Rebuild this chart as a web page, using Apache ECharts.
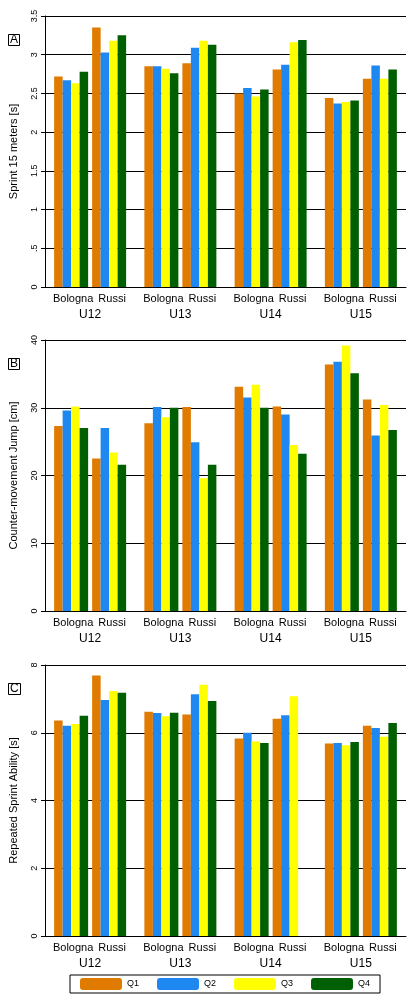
<!DOCTYPE html>
<html>
<head>
<meta charset="UTF-8">
<script src="https://cdn.jsdelivr.net/npm/echarts@6/dist/echarts.min.js"></script>
<style>
  html, body { margin: 0; background: #fff; }
  #main { width: 411px; height: 1000px; }
</style>
</head>
<body>
<div id="main"></div>
<script>
var ages = ['U12', 'U13', 'U14', 'U15'];
var quarters = ['Q1', 'Q2', 'Q3', 'Q4'];
var colors = ['#e07b00', '#1e88f0', '#ffff00', '#005f00'];

// values per quarter, one entry per age group
var sprintBologna = [[2.72, 2.85, 2.50, 2.44], [2.67, 2.85, 2.57, 2.37], [2.63, 2.82, 2.46, 2.39], [2.78, 2.76, 2.55, 2.41]];
var sprintRussi = [[3.35, 2.89, 2.81, 2.69], [3.03, 3.09, 2.87, 2.86], [3.18, 3.18, 3.16, 2.69], [3.25, 3.13, 3.19, 2.81]];
var cmjBologna = [[27.3, 27.7, 33.1, 36.4], [29.6, 30.1, 31.5, 36.8], [30.2, 28.6, 33.4, 39.2], [27.0, 30.0, 30.0, 35.1]];
var cmjRussi = [[22.5, 30.1, 30.2, 31.2], [27.0, 24.9, 29.0, 25.9], [23.4, 19.6, 24.5, 30.4], [21.6, 21.6, 23.2, 26.7]];
var rsaBologna = [[6.36, 6.62, 5.83, 5.68], [6.21, 6.58, 6.00, 5.70], [6.26, 6.49, 5.74, 5.63], [6.50, 6.59, 5.70, 5.73]];
var rsaRussi = [[7.69, 6.54, 6.41, 6.21], [6.97, 7.14, 6.52, 6.14], [7.23, 7.42, 7.08, 5.88], [7.18, 6.94, null, 6.29]];

var panels = [
  { letter: 'A', name: 'Sprint 15 meters [s]', top: 16, max: 3.5, interval: 0.5, b: sprintBologna, r: sprintRussi },
  { letter: 'B', name: 'Counter-movement Jump [cm]', top: 340, max: 40, interval: 10, b: cmjBologna, r: cmjRussi },
  { letter: 'C', name: 'Repeated Sprint Ability [s]', top: 665, max: 8, interval: 2, b: rsaBologna, r: rsaRussi }
];

var grids = [], xAxes = [], yAxes = [], series = [], titles = [];
panels.forEach(function (p, i) {
  grids.push({ left: 40, right: 5, top: p.top, height: 271 });
  titles.push({
    text: p.letter, left: 8, top: p.top + 18, padding: [0, 2],
    borderColor: '#000', borderWidth: 1,
    textStyle: { fontSize: 12, fontWeight: 'normal', color: '#000', fontFamily: 'Liberation Sans' }
  });
  xAxes.push({
    type: 'category', gridIndex: i, data: ages,
    axisLine: { lineStyle: { color: '#000' } }, axisTick: { show: false },
    axisLabel: {
      interval: 0, margin: 6, color: '#000', fontFamily: 'Liberation Sans',
      formatter: function (v) { return '{s|Bologna}{r|Russi}\n{a|' + v + '}'; },
      rich: {
        s: { fontSize: 11, width: 44, align: 'center', fontFamily: 'Liberation Sans' },
        r: { fontSize: 11, width: 34, align: 'center', fontFamily: 'Liberation Sans' },
        a: { fontSize: 12, lineHeight: 22, fontFamily: 'Liberation Sans' }
      }
    }
  });
  yAxes.push({
    type: 'value', gridIndex: i, min: 0, max: p.max, interval: p.interval,
    name: p.name, nameLocation: 'middle', nameGap: 26,
    nameTextStyle: { fontSize: 11, color: '#000', fontFamily: 'Liberation Sans' },
    axisLine: { show: true, lineStyle: { color: '#000' } },
    axisTick: { show: true, length: 4, lineStyle: { color: '#000' } },
    axisLabel: {
      rotate: 90, fontSize: 9, margin: 6, color: '#000', fontFamily: 'Liberation Sans',
      formatter: function (v) { return v === 0.5 ? '.5' : String(v); }
    },
    splitLine: { lineStyle: { color: '#000', width: 1 } }
  });
  quarters.forEach(function (q, k) {
    series.push({ name: q, type: 'bar', xAxisIndex: i, yAxisIndex: i, barWidth: 8.5, barGap: 0,
      itemStyle: { color: colors[k] }, data: p.b[k] });
  });
  series.push({ name: 'gap', type: 'bar', xAxisIndex: i, yAxisIndex: i, barWidth: 4, barGap: 0,
    data: [null, null, null, null] });
  quarters.forEach(function (q, k) {
    series.push({ name: q, type: 'bar', xAxisIndex: i, yAxisIndex: i, barWidth: 8.5, barGap: 0,
      itemStyle: { color: colors[k] }, data: p.r[k] });
  });
});

var chart = echarts.init(document.getElementById('main'));
chart.setOption({
  animation: false,
  title: titles,
  grid: grids,
  xAxis: xAxes,
  yAxis: yAxes,
  legend: {
    data: quarters, left: 70, top: 975, orient: 'horizontal',
    itemWidth: 42, itemHeight: 12, itemGap: 18,
    borderColor: '#000', borderWidth: 1, padding: [3, 10],
    textStyle: { fontSize: 9, color: '#000', fontFamily: 'Liberation Sans' },
    selectedMode: false
  },
  series: series
});
</script>
</body>
</html>
